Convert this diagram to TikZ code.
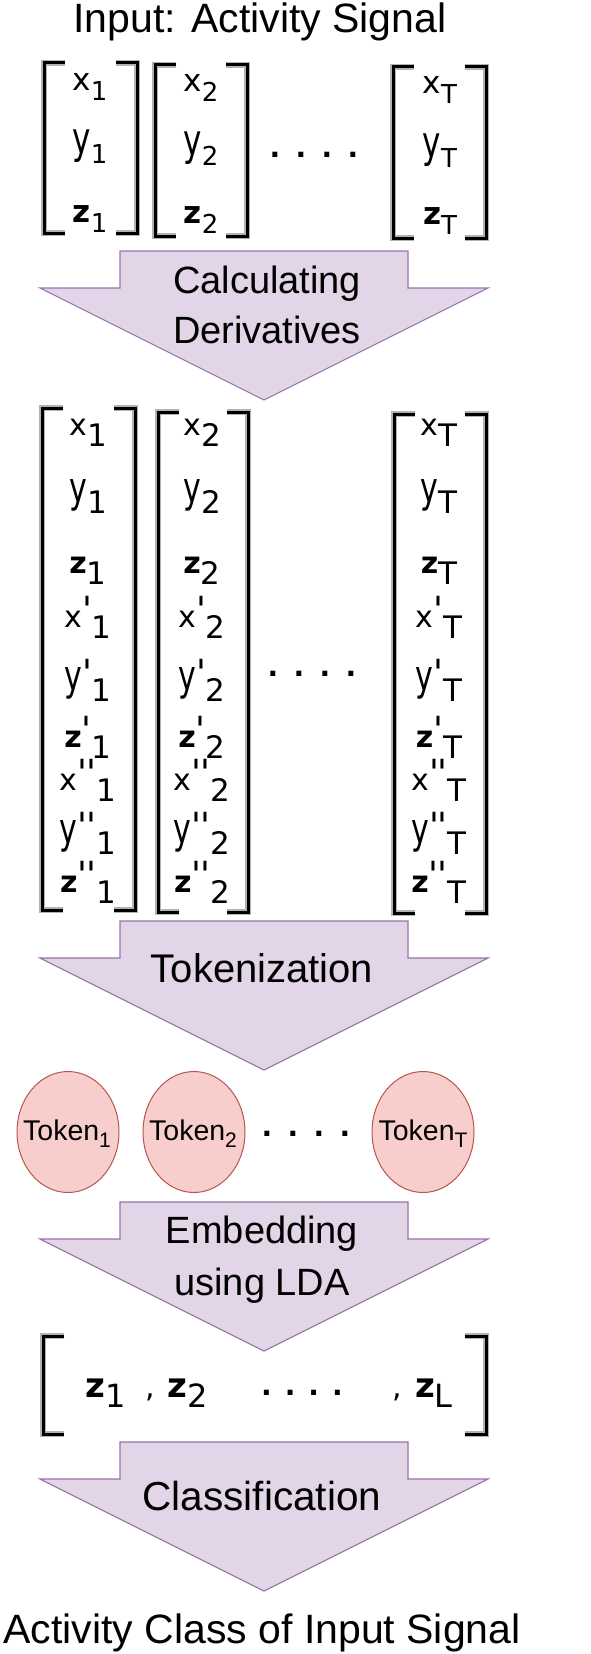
\documentclass[tikz,border=0pt]{standalone}
\usepackage{fontspec}
\usepackage{graphicx}
\setmainfont{Liberation Sans}
\newfontfamily\mfont{DejaVu Sans}
\usetikzlibrary{shapes.geometric}
\definecolor{arrfill}{HTML}{E1D5E7}
\definecolor{arrdraw}{HTML}{9673A6}
\definecolor{tokfill}{HTML}{F8CECC}
\definecolor{tokdraw}{HTML}{B85450}
\newcommand{\fs}[1]{\fontsize{#1}{#1}\selectfont}
\newcommand{\yy}{\scalebox{1}[1.4]{y}}
\newcommand{\ea}[2]{{\mfont\fs{31}#1\raisebox{-10pt}{\fs{26}#2}}}
\newcommand{\eb}[3]{{\mfont\fs{30}#1#2\raisebox{-11pt}{\fs{31}#3}}}
\newcommand{\pra}{\raisebox{5pt}{\fs{36}\textquotesingle}}
\newcommand{\prb}{\raisebox{5pt}{\fs{36}\textquotesingle\kern-1pt\textquotesingle}}
\newcommand{\fourdots}[1]{{\mfont\bfseries\fs{28}.\hspace{#1}.\hspace{#1}.\hspace{#1}.}}
\newcommand{\tok}[1]{\fs{28.5}Token\raisebox{-7pt}{\fs{21}#1}}
\newcommand{\mbrack}[4]{%
  \foreach \w/\c in {5.4/gray!60,3.0/black}{%
    \draw[line width=\w pt,\c,line join=miter] (#1+21,#3) -- (#1,#3) -- (#1,#4) -- (#1+21,#4);
    \draw[line width=\w pt,\c,line join=miter] (#2-21,#3) -- (#2,#3) -- (#2,#4) -- (#2-21,#4);
  }}
\begin{document}
\begin{tikzpicture}[x=1pt,y=-1pt,
  bigarrow/.style={fill=arrfill,draw=arrdraw,line width=1.1pt,line join=miter},
  bigarr/.pic={\draw[bigarrow] (-144,0) -- (144,0) -- (144,37) -- (224,37) -- (0,149) -- (-224,37) -- (-144,37) -- cycle;},
  lbl/.style={inner sep=0pt,anchor=base,font=\fs{38}},
  ttl/.style={inner sep=0pt,anchor=base,font=\fs{41}},
  ent/.style={inner sep=0pt,anchor=base},
  token/.style={ellipse,fill=tokfill,draw=tokdraw,line width=1pt,minimum width=102pt,minimum height=121pt,inner sep=0pt}]
\useasboundingbox (0,0) rectangle (591,1654);

% title
\node[ttl] (title) at (260,33) {Input: Activity Signal};

% block 1
\mbrack{44}{137}{63}{233}
\mbrack{155}{247}{65}{236}
\mbrack{393}{486}{67}{238}
\node[ent] (a11) at (90,90) {\ea{x}{1}};
\node[ent] (a12) at (90,153) {\ea{\yy}{1}};
\node[ent] (a13) at (90,222) {\ea{\textbf{z}}{1}};
\node[ent] (a21) at (201,91) {\ea{x}{2}};
\node[ent] (a22) at (201,155) {\ea{\yy}{2}};
\node[ent] (a23) at (201,223) {\ea{\textbf{z}}{2}};
\node[ent] (a31) at (440,93) {\ea{x}{T}};
\node[ent] (a32) at (440,157) {\ea{\yy}{T}};
\node[ent] (a33) at (440,224) {\ea{\textbf{z}}{T}};
\node[ent] (adots) at (314,157) {\fourdots{15.4pt}};

% arrow 1
\pic at (264,251) {bigarr};
\node[lbl] (calc) at (267,293) {Calculating};
\node[lbl] (deriv) at (267,343) {Derivatives};

% block 2
\mbrack{42}{135}{408}{910}
\mbrack{158}{248}{412}{912}
\mbrack{394}{486}{414}{913}
\foreach \cx/\s [count=\i] in {88/1,202/2,439/T}{
  \node[ent] (b\i a) at (\cx,435) {\eb{x}{}{\s}};
  \node[ent] (b\i b) at (\cx,502) {\eb{\yy}{}{\s}};
  \node[ent] (b\i c) at (\cx,573) {\eb{\textbf{z}}{}{\s}};
  \node[ent] (b\i d) at (\cx,627) {\eb{x}{\pra}{\s}};
  \node[ent] (b\i e) at (\cx,690) {\eb{\yy}{\pra}{\s}};
  \node[ent] (b\i f) at (\cx,747) {\eb{\textbf{z}}{\pra}{\s}};
  \node[ent] (b\i g) at (\cx,790) {\eb{x}{\prb}{\s}};
  \node[ent] (b\i h) at (\cx,843) {\eb{\yy}{\prb}{\s}};
  \node[ent] (b\i k) at (\cx,892) {\eb{\textbf{z}}{\prb}{\s}};
}
\node[ent] (bdots) at (312,676) {\fourdots{15.4pt}};

% arrow 2
\pic at (264,921) {bigarr};
\node[lbl,font=\fs{40}] (tokz) at (262,982) {Tokenization};

% tokens
\node[token] (t1) at (68,1132) {};
\node[token] (t2) at (194,1132) {};
\node[token] (tT) at (423,1132) {};
\node[ent] (t1l) at (67,1140) {\tok{1}};
\node[ent] (t2l) at (193,1140) {\tok{2}};
\node[ent] (tTl) at (423,1140) {\tok{T}};
\node[ent] (tdots) at (306,1136) {\fourdots{15.4pt}};

% arrow 3
\pic at (264,1202) {bigarr};
\node[lbl] (emb) at (262,1243) {Embedding};
\node[lbl] (lda) at (262,1295) {using LDA};

% z row
\mbrack{43}{486}{1336}{1434}
\node[ent] (z1) at (106,1397) {{\mfont\fs{34}\textbf{z}\raisebox{-10pt}{\fs{32}1}}};
\node[ent] (c1) at (150,1397) {{\mfont\fs{30},}};
\node[ent] (z2) at (188,1397) {{\mfont\fs{34}\textbf{z}\raisebox{-10pt}{\fs{32}2}}};
\node[ent] (zdots) at (302,1395) {\fourdots{13pt}};
\node[ent] (c2) at (397,1397) {{\mfont\fs{30},}};
\node[ent] (zL) at (434,1397) {{\mfont\fs{34}\textbf{z}\raisebox{-10pt}{\fs{32}L}}};

% arrow 4
\pic at (264,1442) {bigarr};
\node[lbl,font=\fs{40.5}] (cls) at (262,1510) {Classification};

% output
\node[ttl] (out) at (262,1643) {Activity Class of Input Signal};
\end{tikzpicture}
\end{document}
